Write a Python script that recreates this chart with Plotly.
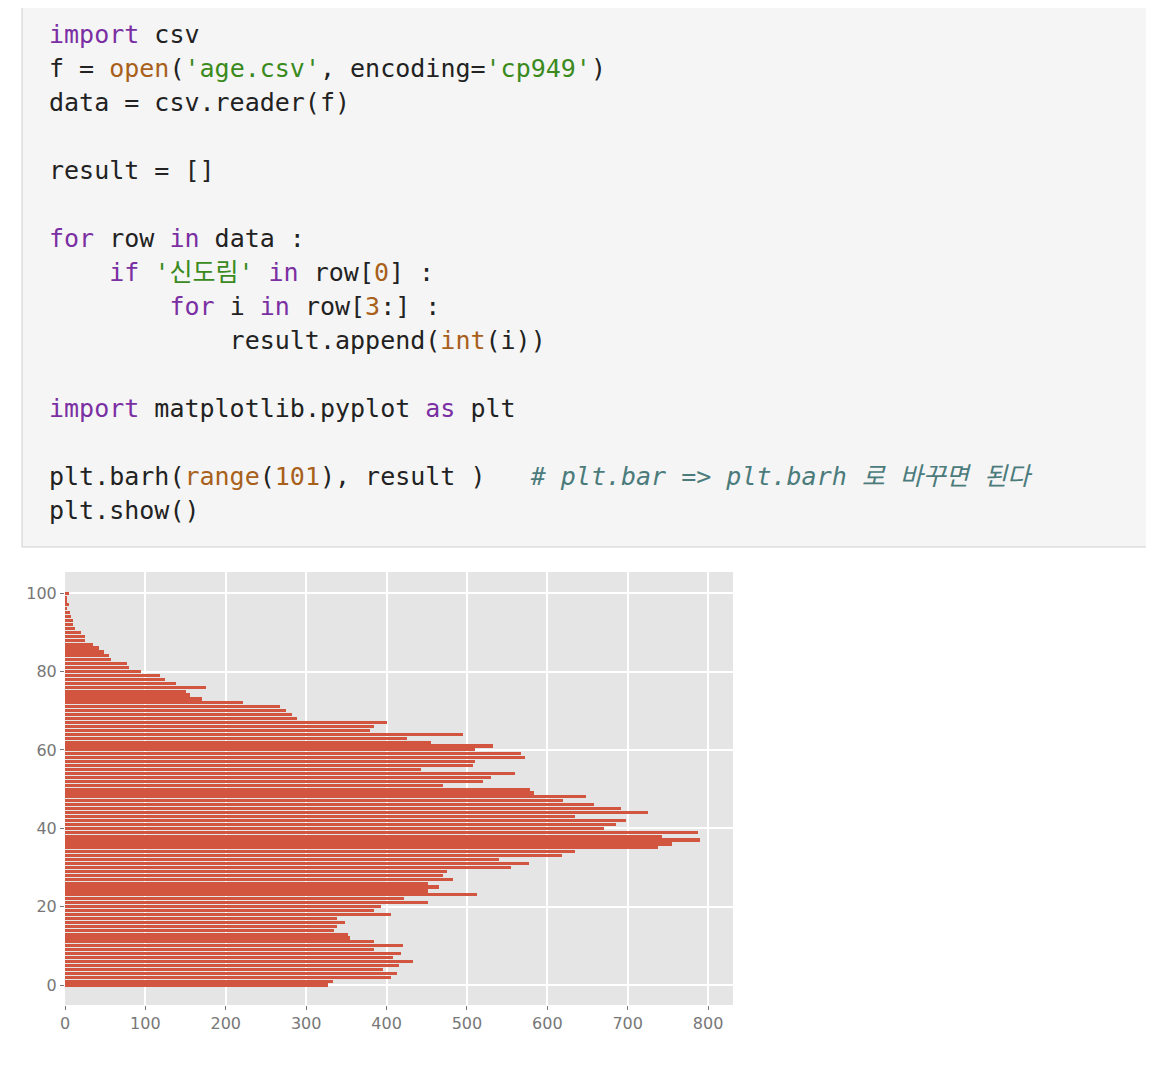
import plotly.graph_objects as go

# age 0..100 population counts
ages = list(range(101))
counts = [327, 333, 405, 413, 395, 415, 433, 408, 418, 385,
          420, 385, 355, 352, 335, 338, 348, 338, 405, 385,
          393, 452, 422, 512, 452, 465, 452, 483, 470, 475,
          555, 577, 540, 618, 635, 738, 755, 790, 743, 788,
          670, 685, 698, 635, 725, 692, 658, 620, 648, 583,
          578, 470, 520, 530, 560, 443, 507, 510, 572, 567,
          510, 532, 455, 425, 495, 380, 385, 400, 288, 283,
          275, 268, 222, 170, 155, 150, 176, 138, 125, 118,
          95, 80, 77, 57, 55, 48, 42, 35, 25, 25,
          20, 13, 10, 10, 8, 6, 3, 5, 3, 3, 5]
x_ticks = [0, 100, 200, 300, 400, 500, 600, 700, 800]
y_ticks = [0, 20, 40, 60, 80, 100]

KW = "#7a2fa3"
BI = "#a8601a"
ST = "#3a8a1c"
CM = "#4b7b7b"
def c(t, col): return f"<span style='color:{col}'>{t}</span>"
sp = "&nbsp;"
code_lines = [
    (34, c("import", KW) + " csv"),
    (68, "f = " + c("open", BI) + "(" + c("'age.csv'", ST) + ", encoding=" + c("'cp949'", ST) + ")"),
    (102, "data = csv.reader(f)"),
    (170, "result = []"),
    (238, c("for", KW) + " row " + c("in", KW) + " data :"),
    (272, sp * 4 + c("if", KW) + " " + c("'신도림'", ST) + " " + c("in", KW) + " row[" + c("0", BI) + "] :"),
    (306, sp * 8 + c("for", KW) + " i " + c("in", KW) + " row[" + c("3", BI) + ":] :"),
    (340, sp * 12 + "result.append(" + c("int", BI) + "(i))"),
    (408, c("import", KW) + " matplotlib.pyplot " + c("as", KW) + " plt"),
    (476, "plt.barh(" + c("range", BI) + "(" + c("101", BI) + "), result )" + sp * 3
     + c("<i># plt.bar =&gt; plt.barh 로 바꾸면 된다</i>", CM)),
    (510, "plt.show()"),
]

# page has an 8px body offset; plot area in reference pixels: x 65..733, y 572..1005
OFF = 8
L, R, T, B = 65 - OFF, 733 - OFF, 572 - OFF, 1005 - OFF
def px(x): return (x - OFF - L) / (R - L)
def py(y): return (B - (y - OFF)) / (B - T)

fig = go.Figure(go.Bar(x=counts, y=ages, orientation="h", width=0.8,
                       marker=dict(color="#D2553F", line=dict(width=0))))

fig.add_shape(type="rect", xref="paper", yref="paper", x0=px(22), x1=px(1170), y0=py(-10), y1=py(547),
              fillcolor="#f5f5f5", line=dict(color="#d0d0d0", width=1), layer="below")
for y, txt in code_lines:
    fig.add_annotation(xref="paper", yref="paper", x=px(47), y=py(y), text=txt, showarrow=False,
                       xanchor="left", yanchor="middle",
                       font=dict(family="DejaVu Sans Mono, Noto Sans CJK KR", size=25, color="#222"))

fig.update_layout(
    width=1154, height=1068, margin=dict(l=L, r=1154 - R, t=T, b=1068 - B),
    paper_bgcolor="white", plot_bgcolor="#E5E5E5", showlegend=False, bargap=0,
    font=dict(family="DejaVu Sans", size=16, color="#777"),
)
fig.update_xaxes(range=[0, 831], tickvals=x_ticks, gridcolor="white", gridwidth=1.5,
                 zeroline=False, ticks="outside", ticklen=4, tickcolor="#777", showline=False)
fig.update_yaxes(range=[-5.1, 105.4], tickvals=y_ticks, gridcolor="white", gridwidth=1.5,
                 zeroline=False, ticks="outside", ticklen=4, tickcolor="#777", showline=False)

fig.write_html("out.html")
